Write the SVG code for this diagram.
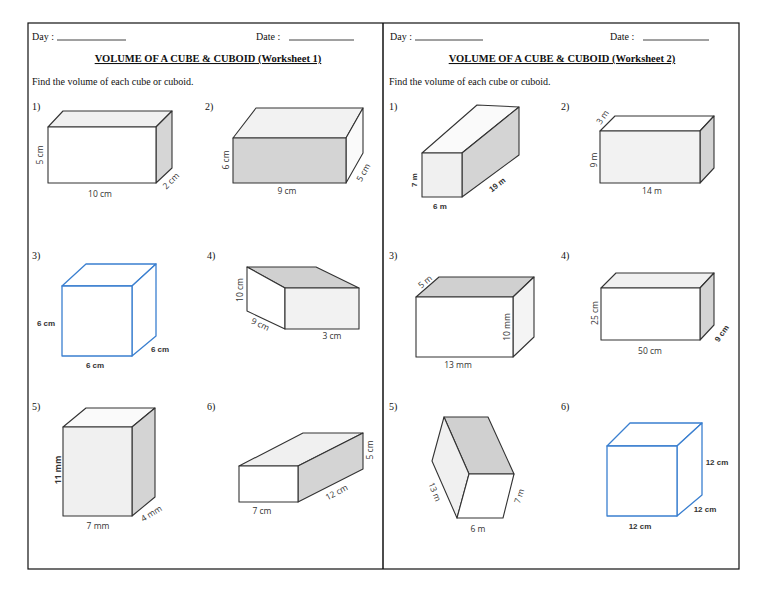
<svg xmlns="http://www.w3.org/2000/svg" width="768" height="594" viewBox="0 0 768 594">
<style>
.h{font-family:"Liberation Serif",serif;font-size:10px;fill:#111}
.t{font-family:"Liberation Serif",serif;font-size:10.5px;font-weight:bold;fill:#111;text-decoration:underline}
.l{font-family:"Open Sans","Liberation Sans",sans-serif;font-size:8.5px;fill:#333}
.b{font-family:"Liberation Sans",sans-serif;font-size:8px;font-weight:bold;fill:#333}
.s{stroke:#333;stroke-width:1.1;stroke-linejoin:round}
.c{stroke:#3a7fd0;stroke-width:1.3;fill:#fff;stroke-linejoin:round}
.u{stroke:#111;stroke-width:0.8}
</style>
<rect width="768" height="594" fill="#fff"/>
<rect x="28" y="23" width="711" height="546" fill="none" stroke="#111" stroke-width="1.2"/>
<line x1="383" y1="23" x2="383" y2="569" stroke="#111" stroke-width="1.5"/>
<g id="hdr1">
<text class="h" x="32" y="40">Day : </text><line class="u" x1="57" y1="40" x2="126" y2="40"/>
<text class="h" x="256" y="40">Date : </text><line class="u" x1="289" y1="40" x2="354" y2="40"/>
<text class="t" x="208" y="62" text-anchor="middle">VOLUME OF A CUBE &amp; CUBOID (Worksheet 1)</text>
<text class="h" x="32" y="85">Find the volume of each cube or cuboid.</text>
</g>
<g id="hdr2">
<text class="h" x="390" y="40">Day : </text><line class="u" x1="415" y1="40" x2="483" y2="40"/>
<text class="h" x="610" y="40">Date : </text><line class="u" x1="643" y1="40" x2="709" y2="40"/>
<text class="t" x="562" y="62" text-anchor="middle">VOLUME OF A CUBE &amp; CUBOID (Worksheet 2)</text>
<text class="h" x="389" y="85">Find the volume of each cube or cuboid.</text>
</g>
<g class="h">
<text x="32" y="110">1)</text><text x="205" y="110">2)</text>
<text x="32" y="259">3)</text><text x="207" y="259">4)</text>
<text x="32" y="410">5)</text><text x="207" y="410">6)</text>
<text x="389" y="110">1)</text><text x="561" y="110">2)</text>
<text x="389" y="259">3)</text><text x="561" y="259">4)</text>
<text x="389" y="410">5)</text><text x="561" y="410">6)</text>
</g>
<g id="L1">
<polygon class="s" points="48,127 63,111 172,111 156,127" fill="#f0f0f0"/>
<polygon class="s" points="156,127 172,111 172,168 156,183" fill="#d6d6d6"/>
<rect class="s" x="48" y="127" width="108" height="56" fill="#fff"/>
<text class="l" transform="translate(43,155) rotate(-90)" text-anchor="middle">5 cm</text>
<text class="l" x="100" y="197" text-anchor="middle">10 cm</text>
<text class="l" transform="translate(173,183) rotate(-45)" text-anchor="middle">2 cm</text>
</g>
<g id="L2">
<polygon class="s" points="233,138 256,108 363,108 346,138" fill="#f2f2f2"/>
<polygon class="s" points="346,138 363,108 363,153 346,183" fill="#fafafa"/>
<rect class="s" x="233" y="138" width="113" height="45" fill="#d4d4d4"/>
<text class="l" transform="translate(229,160) rotate(-90)" text-anchor="middle">6 cm</text>
<text class="l" x="287" y="194" text-anchor="middle">9 cm</text>
<text class="l" transform="translate(366,174) rotate(-60)" text-anchor="middle">5 cm</text>
</g>
<g id="L3">
<polygon class="c" points="62,286 86,264 156,264 132,286"/>
<polygon class="c" points="132,286 156,264 156,336 132,356"/>
<rect class="c" x="62" y="286" width="70" height="70"/>
<text class="b" x="46" y="326" text-anchor="middle">6 cm</text>
<text class="b" x="95" y="368" text-anchor="middle">6 cm</text>
<text class="b" x="160" y="352" text-anchor="middle">6 cm</text>
</g>
<g id="L4">
<polygon class="s" points="247,267 316,267 359,288 285,288" fill="#d0d0d0"/>
<polygon class="s" points="247,267 285,288 285,329 247,311" fill="#fff"/>
<rect class="s" x="285" y="288" width="74" height="41" fill="#f2f2f2"/>
<text class="l" transform="translate(243,290) rotate(-90)" text-anchor="middle">10 cm</text>
<text class="l" transform="translate(259,327) rotate(25)" text-anchor="middle">9 cm</text>
<text class="l" x="332" y="339" text-anchor="middle">3 cm</text>
</g>
<g id="L5">
<polygon class="s" points="63,427 86,408 155,408 132,427" fill="#fafafa"/>
<polygon class="s" points="132,427 155,408 155,497 132,516" fill="#d4d4d4"/>
<rect class="s" x="63" y="427" width="69" height="89" fill="#f0f0f0"/>
<text class="l" transform="translate(61,470) rotate(-90)" text-anchor="middle" font-weight="bold">11 mm</text>
<text class="l" x="98" y="529" text-anchor="middle" font-size="10">7 mm</text>
<text class="l" transform="translate(153,516) rotate(-32)" text-anchor="middle">4 mm</text>
</g>
<g id="L6">
<polygon class="s" points="239,466 303,433 363,433 298,466" fill="#f0f0f0"/>
<polygon class="s" points="298,466 363,433 363,469 298,502" fill="#d4d4d4"/>
<rect class="s" x="239" y="466" width="59" height="36" fill="#fff"/>
<text class="l" x="262" y="514" text-anchor="middle">7 cm</text>
<text class="l" transform="translate(338,495) rotate(-28)" text-anchor="middle">12 cm</text>
<text class="l" transform="translate(373,450) rotate(-90)" text-anchor="middle">5 cm</text>
</g>
<g id="R1">
<polygon class="s" points="422,153 477,105 519,107 462,153" fill="#fafafa"/>
<polygon class="s" points="462,153 519,107 519,155 462,197" fill="#d4d4d4"/>
<rect class="s" x="422" y="153" width="40" height="44" fill="#f0f0f0"/>
<text class="b" transform="translate(417,180) rotate(-90)" text-anchor="middle" font-size="9">7 m</text>
<text class="b" x="440" y="209" text-anchor="middle" font-size="9">6 m</text>
<text class="b" transform="translate(499,187) rotate(-38)" text-anchor="middle" font-size="9">19 m</text>
</g>
<g id="R2">
<polygon class="s" points="600,131 615,116 714,116 700,131" fill="#fff"/>
<polygon class="s" points="700,131 714,116 714,168 700,183" fill="#d4d4d4"/>
<rect class="s" x="600" y="131" width="100" height="52" fill="#f2f2f2"/>
<text class="l" transform="translate(605,119) rotate(-55)" text-anchor="middle">3 m</text>
<text class="l" transform="translate(597,160) rotate(-90)" text-anchor="middle">9 m</text>
<text class="l" x="652" y="194" text-anchor="middle">14 m</text>
</g>
<g id="R3">
<polygon class="s" points="416,297 439,277 534,277 513,297" fill="#d0d0d0"/>
<polygon class="s" points="513,297 534,277 534,337 513,357" fill="#f4f4f4"/>
<rect class="s" x="416" y="297" width="97" height="60" fill="#fff"/>
<text class="l" transform="translate(427,284) rotate(-40)" text-anchor="middle">5 m</text>
<text class="l" transform="translate(510,327) rotate(-90)" text-anchor="middle">10 mm</text>
<text class="l" x="458" y="368" text-anchor="middle">13 mm</text>
</g>
<g id="R4">
<polygon class="s" points="601,288 616,273 714,273 700,288" fill="#f0f0f0"/>
<polygon class="s" points="700,288 714,273 714,325 700,340" fill="#d4d4d4"/>
<rect class="s" x="601" y="288" width="99" height="52" fill="#fff"/>
<text class="l" transform="translate(598,313) rotate(-90)" text-anchor="middle">25 cm</text>
<text class="l" x="650" y="354" text-anchor="middle">50 cm</text>
<text class="b" transform="translate(724,335) rotate(-55)" text-anchor="middle">9 cm</text>
</g>
<g id="R5">
<polygon class="s" points="444,417 488,417 514,474 469,474" fill="#d0d0d0"/>
<polygon class="s" points="444,417 469,474 457,518 432,461" fill="#f0f0f0"/>
<polygon class="s" points="469,474 514,474 503,518 457,518" fill="#fff"/>
<text class="l" transform="translate(432,493) rotate(68)" text-anchor="middle">13 m</text>
<text class="l" transform="translate(522,497) rotate(-72)" text-anchor="middle">7 m</text>
<text class="l" x="478" y="532" text-anchor="middle">6 m</text>
</g>
<g id="R6">
<polygon class="c" points="607,446 630,423 702,423 677,446"/>
<polygon class="c" points="677,446 702,423 702,495 677,516"/>
<rect class="c" x="607" y="446" width="70" height="70"/>
<text class="b" x="717" y="465" text-anchor="middle">12 cm</text>
<text class="b" x="705" y="512" text-anchor="middle">12 cm</text>
<text class="b" x="640" y="529" text-anchor="middle">12 cm</text>
</g>
</svg>
